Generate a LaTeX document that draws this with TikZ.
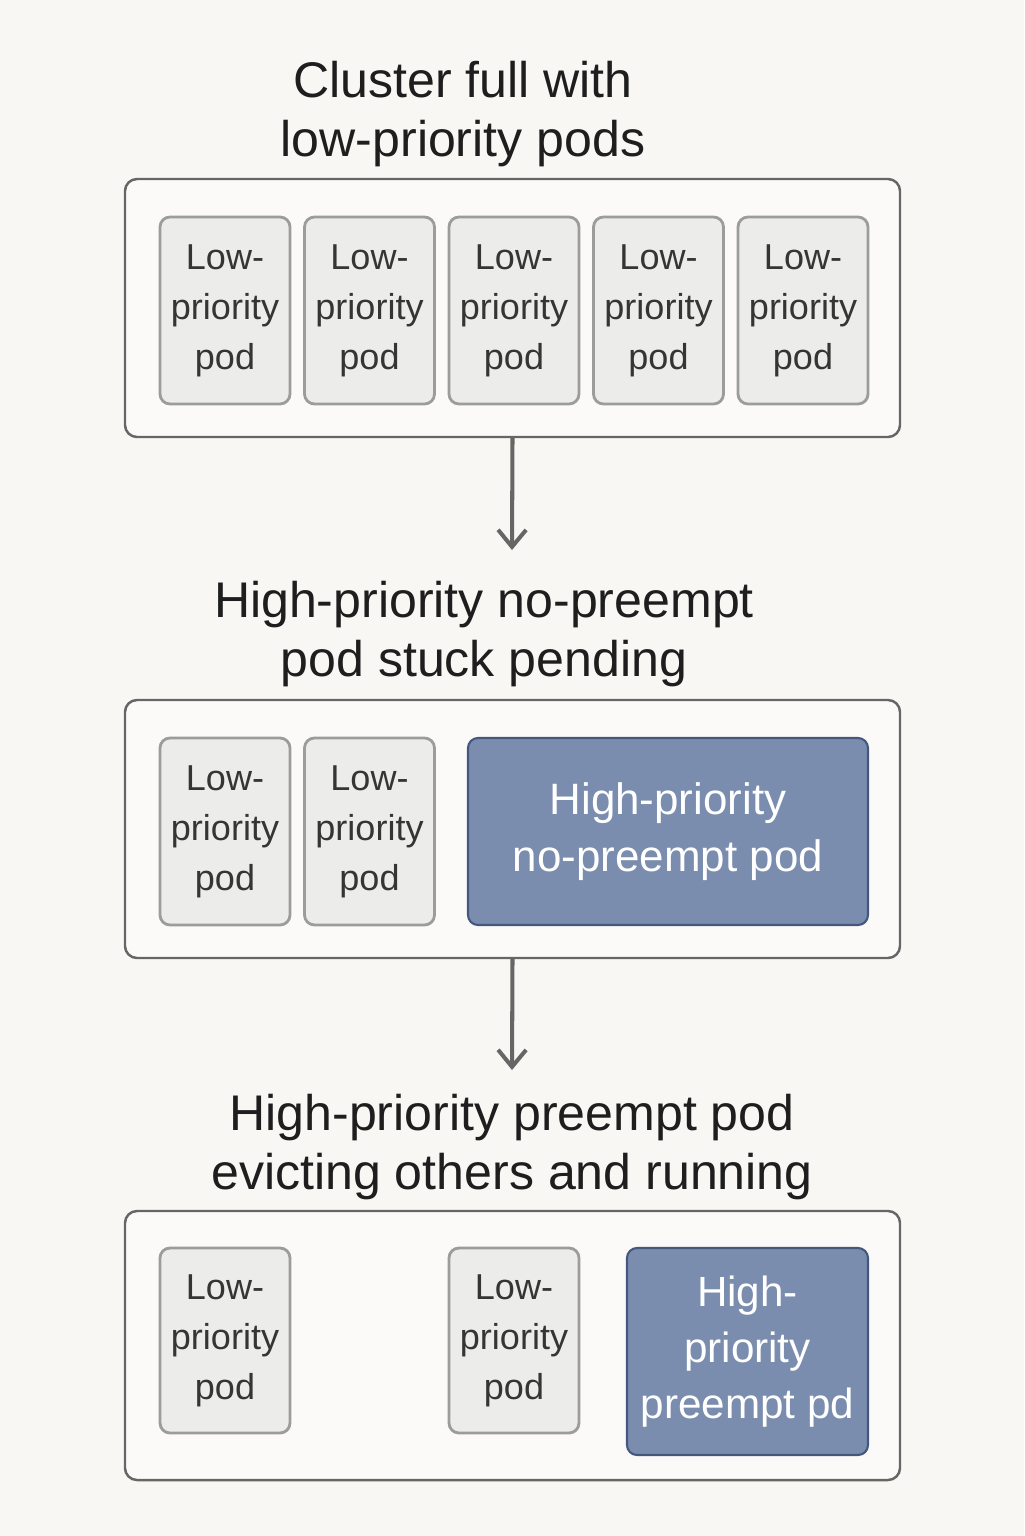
\documentclass[tikz,border=0pt]{standalone}
\usepackage{fontspec}
\setmainfont{Liberation Sans}
\usepackage{tikz}
\usetikzlibrary{arrows.meta,positioning}
\definecolor{paper}{HTML}{F8F7F4}
\definecolor{frame}{HTML}{666666}
\definecolor{podfill}{HTML}{ECECEA}
\definecolor{podline}{HTML}{9C9C9C}
\definecolor{hifill}{HTML}{7A8DAE}
\definecolor{hiline}{HTML}{44587E}
\definecolor{ink}{HTML}{1E1E1E}
\tikzset{
    every picture/.style={line cap=round,line join=round},
    clusterbox/.style={draw=frame,fill=paper!60!white,line width=1.4pt,rounded corners=2.4mm,
      minimum width=15.5cm,minimum height=5.16cm,inner sep=0pt},
    lowpod/.style={draw=podline,fill=podfill,line width=1.6pt,rounded corners=2mm,
      minimum width=2.6cm,minimum height=3.74cm,inner sep=0pt,outer sep=0pt,
      text=ink!90,align=center,font=\fontsize{20.5}{28.5}\selectfont},
    hipod/.style={draw=hiline,fill=hifill,line width=1.2pt,rounded corners=2mm,
      minimum height=3.74cm,inner sep=0pt,text=white,align=center},
    steptitle/.style={text=ink,align=center,inner sep=0pt,
      font=\fontsize{28.5}{34}\selectfont},
    flowarrow/.style={-{Straight Barb[length=3.4mm,width=5.6mm,line width=2.3pt]},
      draw=frame,line width=2.3pt}
}
\begin{document}
\begin{tikzpicture}[x=0.2mm,y=-0.2mm]
  \fill[paper] (0,0) rectangle (1024,1536);
  \useasboundingbox (0,0) rectangle (1024,1536);

  % stage 1: full cluster
  \node[steptitle] (title1) at (463,114) {Cluster full with\\low-priority pods};
  \node[clusterbox] (box1) at (512.5,308) {};
  \node[lowpod] (p11) at (225,310.5) {Low-\\priority\\pod};
  \node[lowpod,right=0.29cm of p11] (p12) {Low-\\priority\\pod};
  \node[lowpod,right=0.29cm of p12] (p13) {Low-\\priority\\pod};
  \node[lowpod,right=0.29cm of p13] (p14) {Low-\\priority\\pod};
  \node[lowpod,right=0.29cm of p14] (p15) {Low-\\priority\\pod};

  \coordinate (tip1) at (512,550);
  \draw[flowarrow] (box1.south) -- (tip1);

  % stage 2: high-priority pod waits
  \node[steptitle] (title2) at (484,634) {High-priority no-preempt\\pod stuck pending};
  \node[clusterbox] (box2) at (512.5,829) {};
  \node[lowpod] (p21) at (225,831.5) {Low-\\priority\\pod};
  \node[lowpod,right=0.29cm of p21] (p22) {Low-\\priority\\pod};
  \node[hipod,minimum width=8cm,font=\fontsize{25}{32.5}\selectfont] (h2) at (668,831.5)
    {High-priority\\no-preempt pod};

  \coordinate (tip2) at (512,1070);
  \draw[flowarrow] (box2.south) -- (tip2);

  % stage 3: preemption
  \node[steptitle] (title3) at (512,1147) {High-priority preempt pod\\evicting others and running};
  \node[clusterbox,minimum height=5.38cm] (box3) at (512.5,1345.5) {};
  \node[lowpod,minimum height=3.7cm] (p31) at (225,1340.5) {Low-\\priority\\pod};
  \node[lowpod,minimum height=3.7cm] (p32) at (514,1340.5) {Low-\\priority\\pod};
  \node[hipod,minimum width=4.82cm,minimum height=4.14cm,
    font=\fontsize{24}{32}\selectfont] (h3) at (747.5,1351.5)
    {High-\\priority\\preempt pd};
\end{tikzpicture}
\end{document}
